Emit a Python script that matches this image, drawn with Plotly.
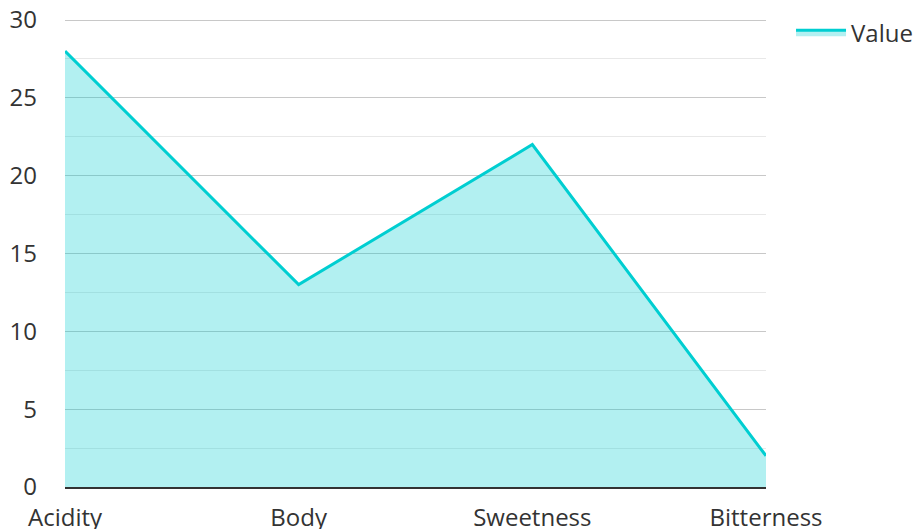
import plotly.graph_objects as go

categories = ["Acidity", "Body", "Sweetness", "Bitterness"]
values = [28, 13, 22, 2]
series_name = "Value"
y_ticks = [0, 5, 10, 15, 20, 25, 30]
y_minor_ticks = [2.5, 7.5, 12.5, 17.5, 22.5, 27.5]

fig = go.Figure()
fig.add_trace(go.Scatter(
    x=categories, y=values, name=series_name, mode="lines",
    line=dict(color="#00CED1", width=3),
    fill="tozeroy", fillcolor="rgba(0,206,209,0.3)",
))

font = dict(family="Open Sans, Noto Sans, sans-serif", size=24, color="#333333")
fig.update_layout(
    width=915, height=529,
    margin=dict(l=65, r=149, t=18, b=42, autoexpand=False),
    paper_bgcolor="white", plot_bgcolor="white",
    font=font,
    showlegend=True,
    legend=dict(x=1.0357, xanchor="left", y=1.017, yanchor="top",
                font=font, bgcolor="rgba(0,0,0,0)", itemwidth=50),
    xaxis=dict(
        type="category", range=[0, 3], showgrid=False, automargin=False,
        showline=True, linecolor="#333333", linewidth=2,
        ticks="", tickfont=font, zeroline=False, ticklabelstandoff=8,
    ),
    yaxis=dict(
        range=[0, 30.13], tickvals=y_ticks, showline=False, zeroline=False,
        automargin=False, ticklabeloverflow="allow",
        gridcolor="#c8c8c8", gridwidth=1,
        minor=dict(tickvals=y_minor_ticks, showgrid=True,
                   gridcolor="#e8e8e8", gridwidth=1),
        ticks="", tickfont=font, ticklabelstandoff=27,
    ),
)

fig.write_html(
    "out.html",
    config={"displayModeBar": False},
    post_script="document.body.style.margin='0';document.body.style.overflow='hidden';",
)
